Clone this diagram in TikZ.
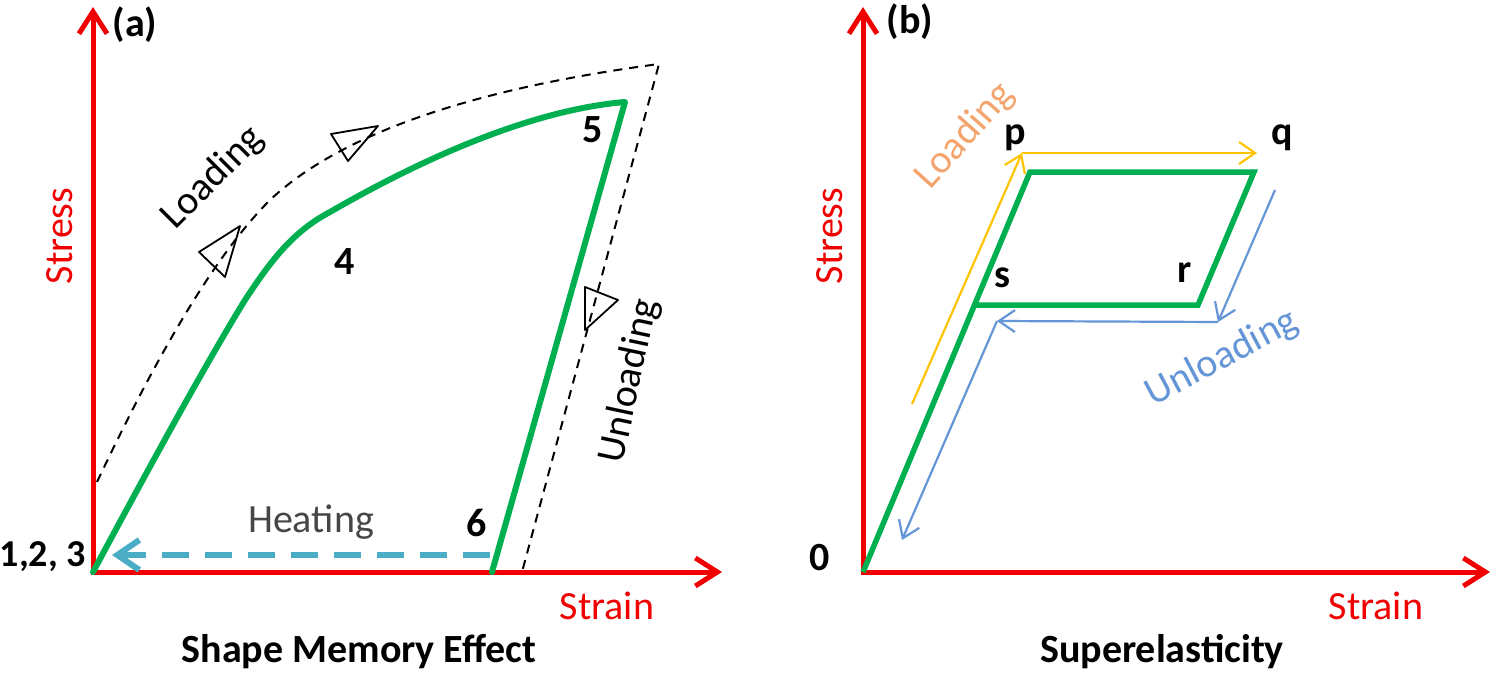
\documentclass[tikz,border=0pt]{standalone}
\usepackage{fontspec}
\setmainfont{Carlito}
\usetikzlibrary{arrows.meta}
\definecolor{axred}{RGB}{240,0,0}
\definecolor{cgreen}{RGB}{0,176,80}
\definecolor{heatblue}{RGB}{75,172,198}
\definecolor{ylw}{RGB}{255,196,0}
\definecolor{ublue}{RGB}{100,150,215}
\definecolor{lorange}{RGB}{244,165,110}
\definecolor{hgray}{RGB}{70,70,70}
\begin{document}
\begin{tikzpicture}[x=1pt,y=-1pt,
  axis/.style={draw=axred, line width=5pt, line join=miter,
    {Straight Barb[length=22pt,width=28pt]}-{Straight Barb[length=22pt,width=28pt]}},
  curve/.style={draw=cgreen, line width=6pt, line join=round, line cap=round},
  guide/.style={draw=black, line width=2pt, dash pattern=on 9pt off 7pt},
  tri/.style={draw=black, line width=1.8pt, line join=round},
  heat/.style={draw=heatblue, line width=6pt, dash pattern=on 27pt off 16pt,
    -{Straight Barb[length=22pt,width=30pt]}},
  yarrow/.style={draw=ylw, line width=2.2pt, -{Straight Barb[length=16pt,width=22pt]}},
  barrow/.style={draw=ublue, line width=2.2pt, -{Straight Barb[length=16pt,width=22pt]}},
  lbl/.style={font=\fontsize{40}{40}\selectfont, inner sep=0pt},
  num/.style={font=\fontsize{40}{40}\selectfont\bfseries, inner sep=0pt}]
\useasboundingbox (0,0) rectangle (1496,674);
\fill[white] (0,0) rectangle (1496,674);

% ---------- panel (a) ----------
\coordinate (Ya) at (93,7);
\coordinate (Oa) at (93,572);
\coordinate (Xa) at (722,572);
\draw[axis] (Ya) -- (Oa) -- (Xa);

\coordinate (D0) at (97,482);
\coordinate (D1) at (270,200);
\coordinate (D2) at (659,64);
\coordinate (D3) at (522,572);
\draw[guide] (D0) .. controls (150,370) and (210,260) .. (D1)
  .. controls (350,125) and (500,85) .. (D2) -- (D3);

\coordinate (G0) at (93,572);
\coordinate (G1) at (245,300);
\coordinate (G2) at (330,212);
\coordinate (G3) at (625,102);
\coordinate (G4) at (492,572);
\draw[curve] (G0) .. controls (145,475) and (205,365) .. (G1)
  .. controls (270,262) and (292,232) .. (G2)
  .. controls (420,160) and (530,110) .. (G3) -- (G4);

\draw[tri] (199,252) -- (240,226) -- (225,277) -- cycle;
\draw[tri] (331,134) -- (378,126) -- (348,161) -- cycle;
\draw[tri] (585,287) -- (618,300) -- (585,330) -- cycle;

\coordinate (H1) at (490,555);
\coordinate (H2) at (112,555);
\draw[heat] (H1) -- (H2);

\node[num] (la) at (135,25) {(a)};
\node[lbl, text=axred, rotate=90] (stra) at (60,236) {Stress};
\node[lbl, text=axred] (sna) at (607,606) {Strain};
\node[num] (ta) at (359,652) {Shape Memory Effect};
\node[num, anchor=east, font=\fontsize{38}{38}\selectfont\bfseries] (n123) at (86,557) {1,2, 3};
\node[lbl, rotate=45] (loada) at (213,178) {Loading};
\node[num] (n4) at (345,262) {4};
\node[num] (n5) at (593,130) {5};
\node[num] (n6) at (477,523) {6};
\node[lbl, text=hgray] (heat) at (311,522) {Heating};
\node[lbl, rotate=78] (unla) at (630,381) {Unloading};

% ---------- panel (b) ----------
\coordinate (Yb) at (863,7);
\coordinate (Ob) at (863,572);
\coordinate (Xb) at (1490,572);
\draw[axis] (Yb) -- (Ob) -- (Xb);

\coordinate (P) at (1030,172);
\coordinate (Q) at (1254,172);
\coordinate (R) at (1198,305);
\coordinate (S) at (975,305);
\draw[curve, line width=5.5pt, line cap=butt, line join=miter] (Ob) -- (P) -- (Q) -- (R) -- (S);

\coordinate (y0) at (912,404);
\coordinate (y1) at (1022,153);
\coordinate (y2) at (1257,153);
\draw[yarrow] (y0) -- (y1);
\draw[yarrow] (y1) -- (y2);

\coordinate (b0) at (1275,190);
\coordinate (b1) at (1218,322);
\coordinate (b2) at (997,321);
\coordinate (b3) at (902,540);
\draw[barrow] (b0) -- (b1);
\draw[barrow] (b1) -- (b2);
\draw[barrow] (b2) -- (b3);

\node[num] (lb) at (910,22) {(b)};
\node[lbl, text=axred, rotate=90] (strb) at (830,236) {Stress};
\node[lbl, text=axred] (snb) at (1376,606) {Strain};
\node[num] (tb) at (1162,652) {Superelasticity};
\node[num] (n0) at (820,558) {0};
\node[num] (np) at (1015,138) {p};
\node[num] (nq) at (1282,138) {q};
\node[num] (ns) at (1002,278) {s};
\node[num] (nr) at (1185,273) {r};
\node[lbl, text=lorange, rotate=48] (loadb) at (965,136) {Loading};
\node[lbl, text=ublue, rotate=28] (unlb) at (1222,358) {Unloading};
\end{tikzpicture}
\end{document}
